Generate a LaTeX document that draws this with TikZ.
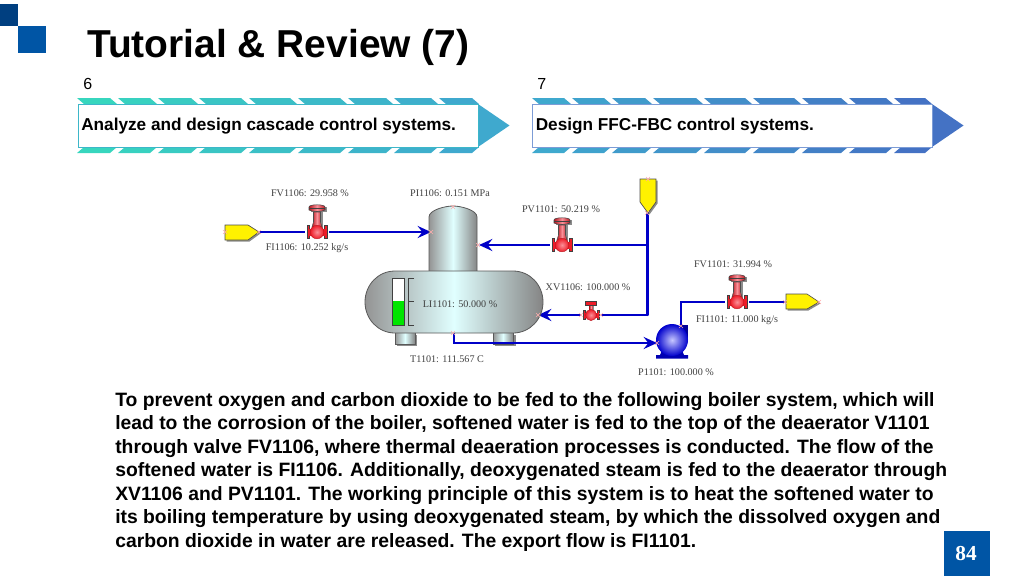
\documentclass[tikz,border=0pt]{standalone}
\usepackage{fontspec}
\setmainfont{Liberation Sans}
\newfontfamily\serifl{Liberation Serif}
\usetikzlibrary{arrows.meta,calc}
\definecolor{pipeblue}{HTML}{0000C8}
\definecolor{decoblue}{HTML}{0055A5}
\definecolor{decodark}{HTML}{003F80}
\definecolor{tagyellow}{HTML}{FFF200}
\definecolor{bannerA}{HTML}{37D6BE}
\definecolor{bannerB}{HTML}{3FA9CE}
\definecolor{bannerC}{HTML}{4472C4}
\definecolor{vred}{HTML}{EE1C28}
\definecolor{vdark}{HTML}{B81820}
\definecolor{vlight}{HTML}{FA9098}
\tikzset{
  pipe/.style={draw=pipeblue,line width=1.7pt},
  flow/.style={pipe,-{Stealth[length=10pt,width=9pt,inset=3.5pt]}},
  tag/.style={fill=tagyellow,draw=black!70,line width=.5pt},
  steel/.style={left color=black!42,right color=black!48,middle color=cyan!12,draw=black!65,line width=.6pt},
  tagtext/.style={font=\serifl\fontsize{7.6}{10}\selectfont,text=black!75,inner sep=0pt},
  heading/.style={font=\bfseries\fontsize{12.9}{15}\selectfont,inner sep=0pt,anchor=west},
  num/.style={font=\fontsize{12}{14}\selectfont,inner sep=0pt,anchor=west},
  portmark/.style={draw=pink!90!red,line width=.5pt},
  redpart/.style={fill=vred,draw=black!75,line width=.4pt},
  valve/.pic={
    \fill[white] (-12,-8) rectangle (12,8);
    \fill[black!45] (-3,-21) rectangle (5.5,0);
    \fill[black!45] (-6.5,-25.5) rectangle (9.5,-20);
    \shade[left color=vdark,right color=vdark,middle color=vlight,draw=black!70,line width=.4pt] (-3.5,-20) -- (3.5,-20) -- (3.5,-10) -- (5,-5) -- (-5,-5) -- (-3.5,-10) -- cycle;
    \shade[left color=vdark,right color=vdark,middle color=vlight,draw=black!75,line width=.4pt] (-8,-25) .. controls (-8,-28) and (8,-28) .. (8,-25) -- (8,-22) .. controls (5,-20) and (-5,-20) .. (-8,-22) -- cycle;
    \draw[black!75,line width=.6pt] (-8,-24) -- (8,-24);
    \draw[redpart] (-10,-6.5) rectangle (-7.5,6.5);
    \draw[redpart] (7.5,-6.5) rectangle (10,6.5);
    \fill[vred] (-8,-3.5) rectangle (8,3.5);
    \shade[inner color=vlight,outer color=vred,draw=vdark,line width=.3pt] (0,0) circle (6.8);
  },
  smallvalve/.pic={
    \fill[white] (-10,-6) rectangle (10,6);
    \fill[black!45] (-1.5,-10) rectangle (3,0);
    \shade[left color=vdark,right color=vdark,middle color=vlight] (-1.8,-10) rectangle (1.8,-3);
    \draw[redpart] (-5.5,-14) rectangle (5.5,-10);
    \draw[redpart] (-8,-4.5) rectangle (-6,4.5);
    \draw[redpart] (6,-4.5) rectangle (8,4.5);
    \fill[vred] (-6.5,-2.5) rectangle (6.5,2.5);
    \shade[inner color=vlight,outer color=vred,draw=vdark,line width=.3pt] (0,0) circle (5.6);
  },
  portx/.pic={
    \draw[portmark] (-2,-2) -- (2,2) (-2,2) -- (2,-2);
  }
}
\begin{document}
\begin{tikzpicture}[x=0.75pt,y=-0.75pt]
\useasboundingbox (0,0) rectangle (1024,576);
% decoration
\fill[decodark] (0,4) rectangle (18,26);
\fill[decoblue] (18,26) rectangle (46,53);
\node[font=\bfseries\fontsize{29.2}{34}\selectfont,inner sep=0pt,anchor=west] (title) at (87,47) {Tutorial \& Review (7)};
\node[num] (n6) at (83,84) {6};
\node[num] (n7) at (537,84) {7};
% banner 1
\foreach \a/\b/\p in {77/110/0,118/150/12,158/191/25,199/241/37,249/290/50,298/340/62,348/386/75,394/431/87,439/472/100}{
  \colorlet{segc}{bannerB!\p!bannerA}
  \fill[segc] (\a,98) -- (\b,98) -- (\b+7,104) -- (\a+7,104) -- cycle;
  \fill[segc] (\a,153) -- (\b,153) -- (\b+7,147) -- (\a+7,147) -- cycle;
}
\fill[bannerB] (478,104) -- (509.5,125.5) -- (478,147) -- cycle;
\draw[bannerB!70!bannerA,fill=white,line width=.75pt] (78.5,104.5) rectangle (478,147);
\node[heading] (b1) at (81,126) {Analyze and design cascade control systems.};
% banner 2
\foreach \a/\b/\p in {532/564/0,572/604/12,612/645/25,653/696/37,704/745/50,753/794/62,802/841/75,849/886/87,894/925/100}{
  \colorlet{segc}{bannerC!\p!bannerB}
  \fill[segc] (\a,98) -- (\b,98) -- (\b+7,104) -- (\a+7,104) -- cycle;
  \fill[segc] (\a,153) -- (\b,153) -- (\b+7,147) -- (\a+7,147) -- cycle;
}
\fill[bannerC] (932,104) -- (963.5,125.5) -- (932,147) -- cycle;
\draw[bannerC!70!white,fill=white,line width=.75pt] (532.5,104.5) rectangle (932,147);
\node[heading] (b2) at (535.5,126) {Design FFC-FBC control systems.};
% named points
\coordinate (srcout) at (259,232);
\coordinate (colin) at (431,232);
\coordinate (colstm) at (479,245);
\coordinate (stmtip) at (647.5,213);
\coordinate (stmjct) at (647.5,245);
\coordinate (stmend) at (647.5,315);
\coordinate (drumin) at (538,315);
\coordinate (drumout) at (454,333);
\coordinate (pumpin) at (657,343);
\coordinate (pumpout) at (681,326);
\coordinate (sinkin) at (786,302);
% pipes
\draw[flow] (srcout) -- (colin);
\draw[flow] (stmjct) -- (colstm);
\draw[pipe,line cap=round] (stmtip) -- (stmend);
\draw[flow] (stmend) -- (drumin);
\draw[pipe] (pumpout) |- (sinkin);
% legs
\fill[black!45] (397,335) rectangle (417,346);
\fill[black!45] (495,335) rectangle (516,346);
\shade[steel] (395,330) rectangle (415,344);
\shade[steel] (493,330) rectangle (513,344);
\draw[flow] (drumout) |- (pumpin);
% column and drum
\shade[steel] (429,272) -- (429,217) .. controls (429,210) and (445,206) .. (453,206) .. controls (461,206) and (477,210) .. (477,217) -- (477,272) -- cycle;
\shade[steel] (395,271) -- (513,271) .. controls (530,271) and (543,285) .. (543,302) .. controls (543,319) and (530,333) .. (513,333) -- (395,333) .. controls (378,333) and (365,319) .. (365,302) .. controls (365,285) and (378,271) .. (395,271) -- cycle;
% level gauge
\fill[white] (392.5,278.5) rectangle (404,301);
\fill[green!90!black] (392.5,301) rectangle (404,325);
\draw[black!75,line width=.6pt] (392.5,278.5) rectangle (404,325);
\draw[black!75,line width=.6pt] (414,278.5) -- (408,278.5) -- (408,325) -- (414,325) (408,301.5) -- (414,301.5);
% valves
\pic at (317,232) {valve};
\pic at (562,245) {valve};
\pic at (737,302) {valve};
\pic at (591,315) {smallvalve};
% source tags
\fill[black!45] (226.5,226.5) -- (249.5,226.5) -- (260.5,233.5) -- (249.5,241.5) -- (226.5,241.5) -- cycle;
\path[tag] (225,225) -- (248,225) -- (259,232) -- (248,240) -- (225,240) -- cycle;
\fill[black!45] (641.5,180.5) -- (657.5,180.5) -- (657.5,203.5) -- (649.5,214.5) -- (641.5,203.5) -- cycle;
\path[tag] (640,179) -- (656,179) -- (656,202) -- (648,213) -- (640,202) -- cycle;
\fill[black!45] (787.5,295.5) -- (808.5,295.5) -- (820.5,303.5) -- (808.5,310.5) -- (787.5,310.5) -- cycle;
\path[tag] (786,294) -- (807,294) -- (819,302) -- (807,309) -- (786,309) -- cycle;
% pump
\fill[blue!60!black] (680,325) rectangle (688,340);
\fill[blue!70!black] (663,348) -- (681,348) -- (684,355) -- (688,355) -- (688,358.5) -- (656,358.5) -- (656,355) -- (660,355) -- cycle;
\shade[inner color=blue!22!white,outer color=blue!80!black] (672,340) circle (16);
% ports
\foreach \q in {(225,232),(259,232),(453,207),(431,232),(478,245),(648,179),(647,213),(538,315),(581,315),(601,315),(453,333),(657,343),(681,326),(785,302),(819,302)}
  \pic at \q {portx};
% texts
\node[tagtext] (t1) at (310,193) {FV1106: 29.958 \%};
\node[tagtext] (t2) at (307,248) {FI1106: 10.252 kg/s};
\node[tagtext] (t3) at (450,193) {PI1106: 0.151 MPa};
\node[tagtext] (t4) at (460,304) {LI1101: 50.000 \%};
\node[tagtext] (t5) at (447,359) {T1101: 111.567 C};
\node[tagtext] (t6) at (561,209) {PV1101: 50.219 \%};
\node[tagtext] (t7) at (588,287) {XV1106: 100.000 \%};
\node[tagtext] (t8) at (733,264) {FV1101: 31.994 \%};
\node[tagtext] (t9) at (737,320) {FI1101: 11.000 kg/s};
\node[tagtext] (t10) at (676,372) {P1101: 100.000 \%};
% paragraph
\node[font=\bfseries\fontsize{14.5}{17.62}\selectfont,align=left,inner sep=0pt,anchor=north west] (para) at (115,392) {\frenchspacing To prevent oxygen and carbon dioxide to be fed to the following boiler system, which will\\lead to the corrosion of the boiler, softened water is fed to the top of the deaerator V1101\\through valve FV1106, where thermal deaeration processes is conducted. The flow of the\\softened water is FI1106. Additionally, deoxygenated steam is fed to the deaerator through\\XV1106 and PV1101. The working principle of this system is to heat the softened water to\\its boiling temperature by using deoxygenated steam, by which the dissolved oxygen and\\carbon dioxide in water are released. The export flow is FI1101.};
% page number
\fill[decoblue] (944,531) rectangle (990,576);
\node[font=\serifl\bfseries\fontsize{16}{18}\selectfont,text=white,inner sep=0pt] (page) at (966,553.5) {84};
\end{tikzpicture}
\end{document}
